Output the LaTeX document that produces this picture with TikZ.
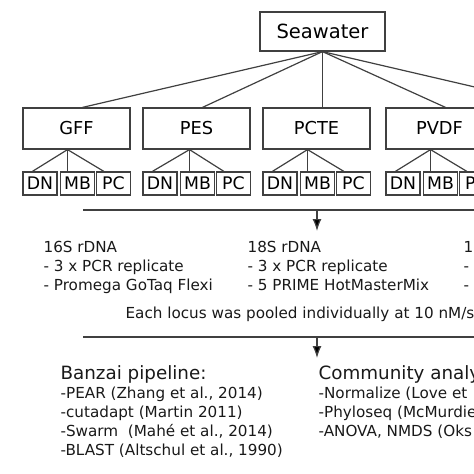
\documentclass[tikz,border=0pt]{standalone}
\usepackage{fontspec}
\setmainfont{DejaVu Sans}
\usepackage{tikz}
\usetikzlibrary{calc}
\usetikzlibrary{arrows.meta}
\usetikzlibrary{positioning}

\begin{document}
\begin{tikzpicture}[x=1pt, y=-1pt, line width=1.2pt,
  topbox/.style={rectangle, draw=black!75, minimum width=125pt, minimum height=39pt, font=\fontsize{19.5}{22}\selectfont},
  filterbox/.style={rectangle, draw=black!75, minimum width=107pt, minimum height=41pt, font=\fontsize{17.8}{20}\selectfont},
  subbox/.style={rectangle, draw=black!75, minimum width=34pt, minimum height=23pt, inner sep=0pt, font=\fontsize{17.3}{19}\selectfont},
  txt/.style={anchor=base west, inner sep=0pt, text=black!90, font=\fontsize{15.2}{18}\selectfont},
  head/.style={anchor=base west, inner sep=0pt, text=black!90, font=\fontsize{18.3}{21}\selectfont}]
\useasboundingbox (0, 0) rectangle (474, 474);
\clip (0, 0) rectangle (474, 474);

% sampling tree
\node [topbox] (sea) at (322.5, 31.5) {Seawater};
\node [filterbox] (gff) at (76.5, 128.5) {GFF};
\node [filterbox] (pes) at (196.5, 128.5) {PES};
\node [filterbox] (pcte) at (316.5, 128.5) {PCTE};
\node [filterbox] (pvdf) at (439.5, 128.5) {PVDF};
\coordinate (f5) at (565, 108);
\draw [draw = black!75] (sea.south) to ([xshift=6pt]gff.north);
\draw [draw = black!75] (sea.south) to ([xshift=6pt]pes.north);
\draw [draw = black!75] (sea.south) to ([xshift=6pt]pcte.north);
\draw [draw = black!75] (sea.south) to ([xshift=6pt]pvdf.north);
\draw [draw = black!75] (sea.south) to (f5);

% extraction kits
\node [subbox] (dn1) at (40, 183.5) {DN};
\node [subbox] (mb1) at (77.5, 183.5) {MB};
\node [subbox] (pc1) at (113.5, 183.5) {PC};
\node [subbox] (dn2) at (160, 183.5) {DN};
\node [subbox] (mb2) at (197.5, 183.5) {MB};
\node [subbox] (pc2) at (233.5, 183.5) {PC};
\node [subbox] (dn3) at (280, 183.5) {DN};
\node [subbox] (mb3) at (317.5, 183.5) {MB};
\node [subbox] (pc3) at (353.5, 183.5) {PC};
\node [subbox] (dn4) at (403, 183.5) {DN};
\node [subbox] (mb4) at (440.5, 183.5) {MB};
\node [subbox] (pc4) at (476.5, 183.5) {PC};
\coordinate (j1) at ([xshift=-9pt]gff.south);
\coordinate (j2) at ([xshift=-7pt]pes.south);
\coordinate (j3) at ([xshift=-9pt]pcte.south);
\coordinate (j4) at ([xshift=-9pt]pvdf.south);
\draw [draw = black!75] (j1) to ([xshift=10pt]dn1.north west);
\draw [draw = black!75] (j1) to (j1 |- mb1.north);
\draw [draw = black!75] (j1) to ([xshift=8pt]pc1.north west);
\draw [draw = black!75] (j2) to ([xshift=10pt]dn2.north west);
\draw [draw = black!75] (j2) to (j2 |- mb2.north);
\draw [draw = black!75] (j2) to ([xshift=8pt]pc2.north west);
\draw [draw = black!75] (j3) to ([xshift=10pt]dn3.north west);
\draw [draw = black!75] (j3) to (j3 |- mb3.north);
\draw [draw = black!75] (j3) to ([xshift=8pt]pc3.north west);
\draw [draw = black!75] (j4) to ([xshift=10pt]dn4.north west);
\draw [draw = black!75] (j4) to (j4 |- mb4.north);
\draw [draw = black!75] (j4) to ([xshift=8pt]pc4.north west);

% PCR
\coordinate (bus1w) at (83, 210);
\coordinate (bus1e) at (480, 210);
\coordinate (arr1) at (317, 210);
\coordinate (tip1) at (317, 231);
\draw [draw = black!75] (bus1w) to (bus1e);
\draw [-{Latex[length=12pt, width=9pt, fill=black]}, draw = black!75] (arr1) to (tip1);
\node [txt] (l16a) at (43, 252) {16S rDNA};
\node [txt] (l16b) at (43, 271.3) {- 3 x PCR replicate};
\node [txt] (l16c) at (43, 290.6) {- Promega GoTaq Flexi};
\node [txt] (l18a) at (247, 252) {18S rDNA};
\node [txt] (l18b) at (247, 271.3) {- 3 x PCR replicate};
\node [txt] (l18c) at (247, 290.6) {- 5 PRIME HotMasterMix};
\node [txt] (l3a) at (463, 252) {1};
\node [txt] (l3b) at (463, 271.3) {-};
\node [txt] (l3c) at (463, 290.6) {-};
\node [txt] (pool) at (125, 318) {Each locus was pooled individually at 10 nM/s};

% analysis
\coordinate (bus2w) at (83, 337);
\coordinate (bus2e) at (480, 337);
\coordinate (arr2) at (317, 337);
\coordinate (tip2) at (317, 358);
\draw [draw = black!75] (bus2w) to (bus2e);
\draw [-{Latex[length=12pt, width=9pt, fill=black]}, draw = black!75] (arr2) to (tip2);
\node [head] (banzai) at (60, 379) {Banzai pipeline:};
\node [txt] (pear) at (60, 398) {-PEAR (Zhang et al., 2014)};
\node [txt] (cut) at (60, 417.3) {-cutadapt (Martin 2011)};
\node [txt] (swarm) at (60, 436.5) {-Swarm\ \ (Mahé et al., 2014)};
\node [txt] (blast) at (60, 455.5) {-BLAST (Altschul et al., 1990)};
\node [head] (comm) at (318, 379) {Community analy};
\node [txt] (norm) at (318, 398) {-Normalize (Love et};
\node [txt] (phylo) at (318, 417.3) {-Phyloseq (McMurdie};
\node [txt] (anova) at (318, 436.5) {-ANOVA, NMDS (Oks};
\end{tikzpicture}
\end{document}
